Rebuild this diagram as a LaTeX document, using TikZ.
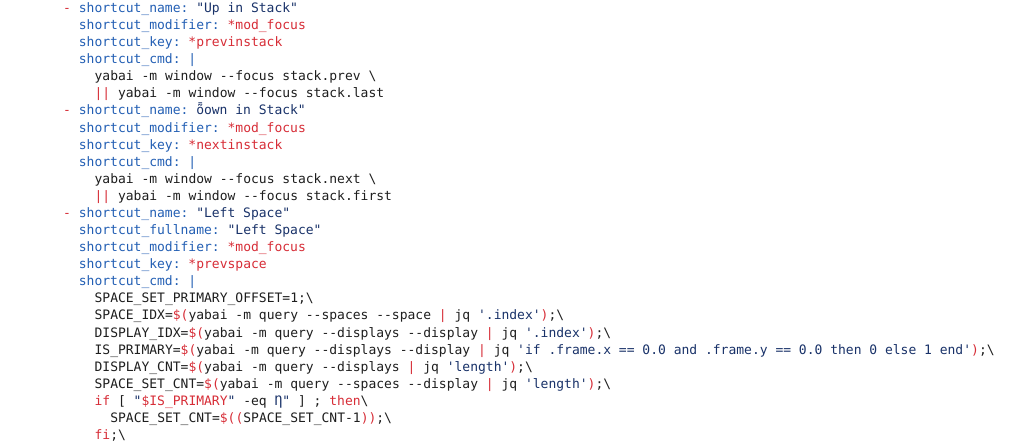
\documentclass[tikz,border=0pt]{standalone}
\usepackage{fontspec}
\setmonofont{DejaVu Sans Mono}
\definecolor{kc}{RGB}{35,95,180}
\definecolor{rc}{RGB}{215,45,55}
\definecolor{sc}{RGB}{25,50,105}
\definecolor{tc}{RGB}{30,30,30}
\newcommand\K[1]{\textcolor{kc}{#1}}
\newcommand\R[1]{\textcolor{rc}{#1}}
\newcommand\Sx[1]{\textcolor{sc}{#1}}
\newcommand\dq{\char"22}
\newcommand\sq{\char"27}
\newcommand\bs{\char"5C}
\newcommand\dd{-{}-}
\tikzset{codeline/.style={anchor=base west,inner sep=0pt,text=tc,font=\ttfamily\fontsize{13}{15}\selectfont}}
\newcommand\cl[3]{\node[codeline] (l#2) at ({63+7.85*#1},{-12.5-17.08*#2}) {#3};}
\begin{document}
\begin{tikzpicture}[x=1pt,y=1pt]
\useasboundingbox[fill=white] (0,0) rectangle (1035,-442);
\cl{0}{0}{\R{-} \K{shortcut\_name:} \Sx{\dq Up in Stack\dq}}
\cl{2}{1}{\K{shortcut\_modifier:} \R{*mod\_focus}}
\cl{2}{2}{\K{shortcut\_key:} \R{*previnstack}}
\cl{2}{3}{\K{shortcut\_cmd: |}}
\cl{4}{4}{yabai -m window \dd focus stack.prev \bs}
\cl{4}{5}{\R{||} yabai -m window \dd focus stack.last}
\cl{0}{6}{\R{-} \K{shortcut\_name:} \Sx{\dq Down in Stack\dq}}
\cl{2}{7}{\K{shortcut\_modifier:} \R{*mod\_focus}}
\cl{2}{8}{\K{shortcut\_key:} \R{*nextinstack}}
\cl{2}{9}{\K{shortcut\_cmd: |}}
\cl{4}{10}{yabai -m window \dd focus stack.next \bs}
\cl{4}{11}{\R{||} yabai -m window \dd focus stack.first}
\cl{0}{12}{\R{-} \K{shortcut\_name:} \Sx{\dq Left Space\dq}}
\cl{2}{13}{\K{shortcut\_fullname:} \Sx{\dq Left Space\dq}}
\cl{2}{14}{\K{shortcut\_modifier:} \R{*mod\_focus}}
\cl{2}{15}{\K{shortcut\_key:} \R{*prevspace}}
\cl{2}{16}{\K{shortcut\_cmd: |}}
\cl{4}{17}{SPACE\_SET\_PRIMARY\_OFFSET=1;\bs}
\cl{4}{18}{SPACE\_IDX=\R{\$(}yabai -m query \dd spaces \dd space \R{|} jq \Sx{\sq.index\sq}\R{)};\bs}
\cl{4}{19}{DISPLAY\_IDX=\R{\$(}yabai -m query \dd displays \dd display \R{|} jq \Sx{\sq.index\sq}\R{)};\bs}
\cl{4}{20}{IS\_PRIMARY=\R{\$(}yabai -m query \dd displays \dd display \R{|} jq \Sx{\sq if .frame.x == 0.0 and .frame.y == 0.0 then 0 else 1 end\sq}\R{)};\bs}
\cl{4}{21}{DISPLAY\_CNT=\R{\$(}yabai -m query \dd displays \R{|} jq \Sx{\sq length\sq}\R{)};\bs}
\cl{4}{22}{SPACE\_SET\_CNT=\R{\$(}yabai -m query \dd spaces \dd display \R{|} jq \Sx{\sq length\sq}\R{)};\bs}
\cl{4}{23}{\R{if} [ \Sx{\dq}\R{\$IS\_PRIMARY}\Sx{\dq} -eq \Sx{\dq 0\dq} ] ; \R{then}\bs}
\cl{6}{24}{SPACE\_SET\_CNT=\R{\$((}SPACE\_SET\_CNT-1\R{))};\bs}
\cl{4}{25}{\R{fi};\bs}
\end{tikzpicture}
\end{document}
